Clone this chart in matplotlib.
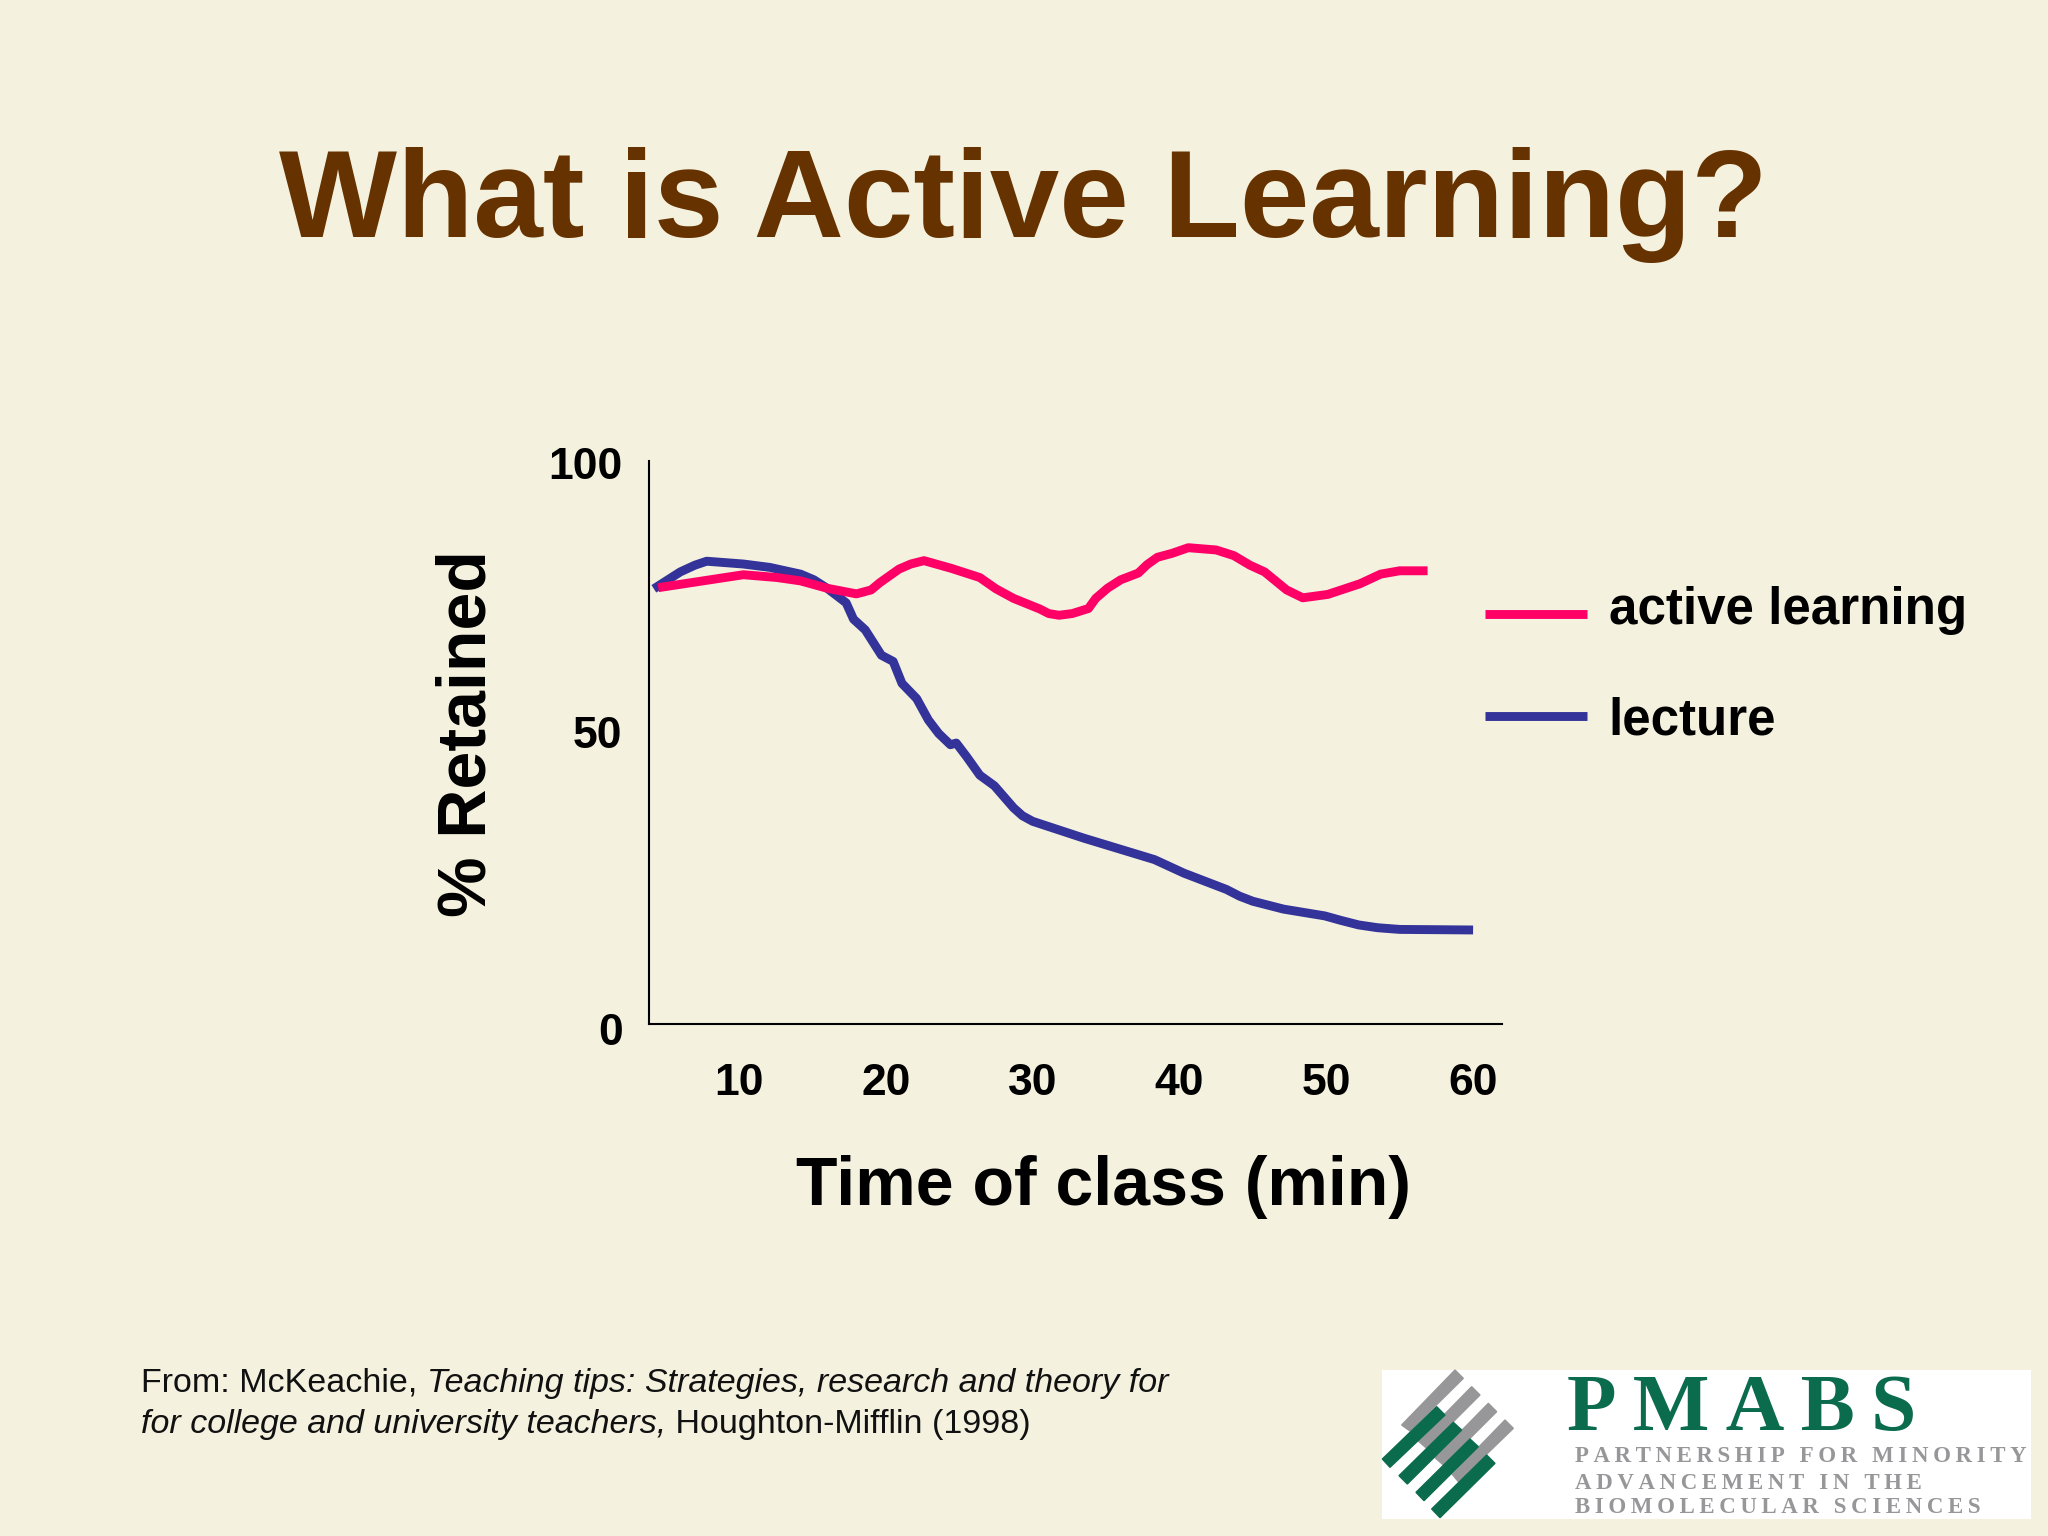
import matplotlib
matplotlib.use("Agg")
import matplotlib.pyplot as plt
from matplotlib.patches import Polygon, Rectangle
from matplotlib.transforms import ScaledTranslation

W, H = 2048, 1536
SANS = "Liberation Sans"
SERIF = "Liberation Serif"
BG = "#F4F1DF"
RED = "#FF0066"
BLUE = "#333399"
BROWN = "#663300"
GREEN = "#0B6B4D"
GRAY = "#97979A"

TITLE = "What is Active Learning?"
XLABEL = "Time of class (min)"
YLABEL = "% Retained"
X_TICKS = [10, 20, 30, 40, 50, 60]
Y_TICKS = [0, 50, 100]

active_x = [4.5, 10.3, 12.6, 14.2, 16.0, 18.0, 19.0, 19.6, 20.9, 21.7, 22.6, 24.5, 26.4, 27.5, 28.7, 30.5, 31.1, 31.8, 32.7, 33.8,
            34.3, 35.1, 36.0, 37.2, 37.8, 38.5, 39.5, 40.6, 42.5, 43.7, 44.8, 45.8, 47.3, 48.4, 50.1, 52.3, 53.7, 55.0, 56.9]
active_y = [77.5, 79.8, 79.3, 78.7, 77.4, 76.4, 77.1, 78.4, 80.8, 81.7, 82.3, 80.9, 79.3, 77.3, 75.6, 73.7, 72.9, 72.6, 72.9, 73.8,
            75.6, 77.4, 78.9, 80.1, 81.6, 82.9, 83.6, 84.6, 84.2, 83.2, 81.5, 80.3, 77.1, 75.7, 76.3, 78.2, 79.9, 80.5, 80.5]
lecture_x = [4.2, 6.0, 7.0, 7.8, 10.3, 12.1, 14.2, 15.1, 16.0, 17.3, 17.8, 18.6, 19.7, 20.5, 21.1, 22.1, 22.9,
             23.6, 24.4, 24.8, 25.5, 26.4, 27.4, 28.7, 29.3, 30.0, 33.5, 38.3, 40.3, 43.2, 44.1, 45.0, 47.1, 49.9,
             51.0, 52.2, 53.5, 55.0, 60.0]
lecture_y = [77.3, 80.3, 81.5, 82.2, 81.7, 81.1, 79.9, 78.9, 77.4, 74.8, 71.9, 70.0, 65.5, 64.4, 60.5, 57.8, 54.0,
             51.6, 49.6, 49.9, 47.5, 44.2, 42.3, 38.4, 37.0, 36.0, 33.0, 29.2, 26.8, 23.9, 22.7, 21.8, 20.4, 19.2,
             18.4, 17.6, 17.1, 16.8, 16.7]

fig = plt.figure(figsize=(W / 100, H / 100), dpi=100, facecolor=BG)

# full-figure layer in pixel coordinates for slide furniture
bg = fig.add_axes([0, 0, 1, 1], zorder=0)
bg.set_xlim(0, W)
bg.set_ylim(H, 0)
bg.axis("off")

bg.text(1023, 237, TITLE, family=SANS, weight="bold", size=90, color=BROWN, ha="center", va="baseline")

# chart
ax = fig.add_axes([649 / W, 1 - 1024 / H, (1502 - 649) / W, (1024 - 461) / H], zorder=1)
ax.patch.set_alpha(0)
ax.set_xlim(3.87, 61.97)
ax.set_ylim(0, 100)
for s in ("top", "right"):
    ax.spines[s].set_visible(False)
for s in ("left", "bottom"):
    ax.spines[s].set_linewidth(1.5)
    ax.spines[s].set_color("black")

LW = 6.4
ax.plot(lecture_x, lecture_y, color=BLUE, lw=LW, solid_capstyle="butt", solid_joinstyle="round", label="lecture")
ax.plot(active_x, active_y, color=RED, lw=LW, solid_capstyle="butt", solid_joinstyle="round", label="active learning")

ax.set_xticks(X_TICKS)
ax.set_yticks(Y_TICKS)
ax.tick_params(axis="x", length=0, pad=28)
ax.tick_params(axis="y", length=0, pad=19)
for t in ax.get_xticklabels():
    t.set_fontfamily(SANS)
    t.set_fontweight("bold")
    t.set_fontsize(32)
for t, dy in zip(ax.get_yticklabels(), [5, -11, 2]):
    t.set_fontfamily(SANS)
    t.set_fontweight("bold")
    t.set_fontsize(32)
    t.set_transform(t.get_transform() + ScaledTranslation(0, -dy / 100, fig.dpi_scale_trans))

bg.text(1103, 1187, XLABEL, family=SANS, weight="bold", size=49, ha="center", va="center")
bg.text(468, 734, YLABEL, family=SANS, weight="bold", size=49, rotation=90, ha="center", va="center")

handles, labels = ax.get_legend_handles_labels()
leg = ax.legend(handles[::-1], labels[::-1], loc="upper left", bbox_transform=fig.transFigure,
                bbox_to_anchor=(1485 / W, 1 - 586 / H), frameon=False, borderpad=0, borderaxespad=0,
                handlelength=2.0, handletextpad=0.42, labelspacing=1.2,
                prop={"family": SANS, "weight": "bold", "size": 36.8})
h0 = leg.legend_handles[0]
h0.set_ydata([y - 6 for y in h0.get_ydata()])

# citation with mixed upright / italic runs
def runs(x, y, parts):
    r = fig.canvas.get_renderer()
    for s, style in parts:
        t = bg.text(x, y, s, family=SANS, style=style, size=24.5, color="#111111", va="baseline", ha="left")
        x = t.get_window_extent(r).x1
runs(141, 1392, [("From: McKeachie, ", "normal"),
                 ("Teaching tips: Strategies, research and theory for", "italic")])
runs(141, 1433, [("for college and university teachers,", "italic"), (" Houghton-Mifflin (1998)", "normal")])

# logo
LX = lambda z: 1375 + z / 3
LY = lambda z: 1365 + z / 3
bg.add_patch(Rectangle((1382, 1370), 2031 - 1382, 1519 - 1370, fc="white", ec="none"))
gray_bars = [[(80, 180), (240, 15), (265, 40), (105, 198)],
             [(130, 228), (290, 65), (315, 90), (155, 250)],
             [(180, 278), (340, 115), (365, 140), (205, 300)],
             [(232, 328), (390, 165), (415, 190), (250, 350)]]
green_bars = [[(22, 282), (45, 307), (210, 150), (185, 125)],
              [(72, 332), (97, 357), (260, 195), (235, 172)],
              [(123, 382), (147, 407), (310, 245), (285, 222)],
              [(170, 432), (195, 458), (360, 295), (335, 270)]]
for bars, col in ((gray_bars, GRAY), (green_bars, GREEN)):
    for b in bars:
        bg.add_patch(Polygon([(LX(a), LY(c)) for a, c in b], fc=col, ec=col, lw=1.0))

THIN = "\u2009"
bg.text(1567, 1430, THIN.join("PMABS"), family=SERIF, weight="bold", size=58.5, color=GREEN, va="baseline")
for s, y in (("PARTNERSHIP FOR MINORITY", 1462), ("ADVANCEMENT IN THE", 1489), ("BIOMOLECULAR SCIENCES", 1513)):
    bg.text(1575, y, THIN.join(s), family=SERIF, weight="bold", size=16.5, color="#97979A", va="baseline")

fig.savefig("out.png", dpi=100, facecolor=BG)
